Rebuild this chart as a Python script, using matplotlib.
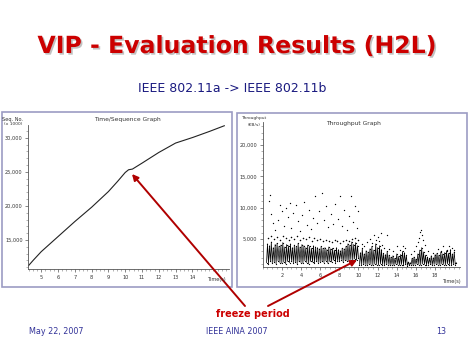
import numpy as np
import matplotlib
matplotlib.use("Agg")
import matplotlib.pyplot as plt
import matplotlib.patheffects as pe
from matplotlib.patches import Rectangle, FancyArrowPatch
from matplotlib.ticker import MultipleLocator, FuncFormatter

W, H = 474, 355

# left graph: time vs sequence number (x 1000)
seq_t = [4.24, 4.54, 5.0, 6.0, 7.0, 8.0, 9.0, 9.54, 10.0, 10.2, 10.43,
         11.0, 12.0, 13.0, 14.03, 15.02, 15.9]
seq_v = [11220, 12060, 13280, 15490, 17700, 19800, 22100, 23575, 24900,
         25300, 25400, 26270, 27840, 29220, 30050, 30930, 31760]

# right graph: throughput samples, dense band before the handoff (0.4 .. 10.0 s)
thr_v1 = [1200, 4200, 1000, 3900, 1400, 4500, 1100, 3600, 1300, 4100,
          1000, 4300, 1500, 3800, 1200, 4000, 1100, 4400, 1300, 3700,
          1000, 4100, 1400, 3900, 1200, 4200, 1500, 3600, 1100, 4000,
          1300, 3800, 1000, 4300, 1400, 3700, 1200, 4100, 1100, 3900,
          1500, 3600, 1200, 4000, 1000, 3800, 1400, 3500, 1300, 3900,
          1100, 3700, 1500, 3600, 1200, 3400, 1300, 3800, 1400, 3500,
          1200, 3600, 1500, 3300, 1100, 3700, 1400, 3400, 1300, 3500,
          1600, 3200, 1200, 3600, 1500, 3300, 1400, 3100, 1700, 3500,
          1300, 3400, 1600, 3800, 1500, 4200, 1400, 4000, 1700, 4500,
          1500, 4100, 1800, 4400, 1600, 3900, 2000]
# after the handoff (10.1 .. 20.2 s)
thr_v2 = [900, 2800, 800, 3500, 1000, 2600, 900, 3100, 800, 2900,
          1000, 3400, 900, 3800, 800, 3200, 1000, 4200, 900, 3600,
          800, 3900, 1000, 3300, 900, 2700, 800, 2500, 1000, 3000,
          900, 2400, 800, 2100, 900, 2300, 800, 1900, 1000, 2600,
          900, 2200, 800, 2500, 900, 3000, 800, 2800, 1000, 2400,
          700, 1300, 800, 1200, 900, 1900, 800, 2100, 900, 1800,
          1000, 2600, 900, 3200, 800, 3600, 1000, 2900, 900, 2400,
          800, 2100, 900, 1900, 1000, 2300, 800, 2000, 900, 2500,
          1000, 2700, 900, 2400, 800, 2900, 1000, 2600, 900, 2800,
          800, 3100, 1000, 2700, 900, 3300, 800, 2600, 1000, 2900,
          900, 1200]
# sample times: one sample every 0.1 s
thr_t1 = np.round(np.arange(len(thr_v1)) * 0.1 + 0.4, 1)
thr_t2 = np.round(np.arange(len(thr_v2)) * 0.1 + 10.1, 1)

# loose row of points around 5000 KB/s
row_t = [0.6, 0.9, 1.2, 1.5, 1.8, 2.1, 2.4, 2.7, 3.0, 3.3, 3.6, 3.9, 4.2, 4.5,
         4.8, 5.1, 5.4, 5.7, 6.0, 6.3, 6.6, 6.9, 7.2, 7.5, 7.8, 8.1, 8.4, 8.7,
         9.0, 9.3, 9.6, 9.9]
row_v = [5200, 5400, 5000, 5300, 4900, 5500, 5100, 4800, 5300, 5000, 5400,
         4900, 5200, 5000, 5300, 4700, 5100, 4800, 5000, 4600, 4900, 4700,
         4500, 4800, 4600, 4400, 4700, 4900, 4600, 5000, 5200, 4800]

# sparse high points
out_t = [0.8, 0.7, 0.9, 1.1, 1.3, 1.6, 1.8, 2.0, 2.2, 2.4, 2.6, 2.8, 3.0, 3.2,
         3.5, 3.7, 3.9, 4.1, 4.3, 4.6, 4.8, 5.0, 5.2, 5.5, 5.7, 5.9, 6.2, 6.4,
         6.6, 6.8, 7.1, 7.3, 7.6, 7.9, 8.1, 8.3, 8.5, 8.8, 9.0, 9.2, 9.4, 9.6,
         9.8, 9.9,
         10.4, 10.6, 10.9, 11.2, 11.4, 11.6, 11.8, 12.0, 12.1, 12.3, 12.5, 12.7,
         13.0, 13.2, 13.6, 14.0, 14.3, 14.7, 14.9, 15.5, 15.8, 16.0, 16.2, 16.3,
         16.4, 16.5, 16.6, 16.7, 16.9, 17.3, 17.8, 18.3, 18.6, 18.8, 19.2, 19.5,
         19.8, 20.0]
out_v = [12000, 11000, 9000, 7500, 6500, 8000, 10500, 9500, 7000, 10000,
         8500, 10800, 6800, 9200, 10400, 7800, 6200, 8800, 10900, 7300, 9700,
         6600, 8300, 11800, 7600, 9400, 12300, 8000, 10200, 6900, 9000, 7400,
         10600, 8200, 11900, 7100, 9600, 6400, 8700, 11800, 7700, 10300, 6800,
         9500,
         4200, 3800, 4500, 5000, 4300, 5600, 4800, 5300, 4600, 5900, 4000, 3600,
         5600, 3400, 3000, 3800, 3200, 3900, 3500, 2600, 3000, 3800, 4500, 5200,
         6100, 6400, 5600, 4800, 4100, 3000, 2800, 3400, 3100, 3800, 3300, 3900,
         3600, 3200]


def box(x0, y0, x1, y1):
    # pixel box (top-left origin) -> figure fraction rect
    return [x0 / W, 1 - y1 / H, (x1 - x0) / W, (y1 - y0) / H]


def fx(x, y):
    return (x / W, 1 - y / H)


fig = plt.figure(figsize=(W / 100, H / 100), dpi=100)
fig.patch.set_facecolor("white")

# panel frames
for x0, y0, x1, y1 in [(2, 112, 232, 287), (237, 113, 467, 287)]:
    fig.add_artist(Rectangle(fx(x0, y1), (x1 - x0) / W, (y1 - y0) / H,
                             transform=fig.transFigure, fill=False,
                             edgecolor="#9c9cc4", lw=1.2))

comma = FuncFormatter(lambda v, p: f"{int(v):,}")


def style(ax):
    for s in ["top", "right"]:
        ax.spines[s].set_visible(False)
    for s in ["left", "bottom"]:
        ax.spines[s].set_color("#555555")
        ax.spines[s].set_linewidth(0.6)
    ax.tick_params(which="major", length=2.5, width=0.5, colors="#555555",
                   labelsize=3.6, labelcolor="#333333", pad=1.5)
    ax.tick_params(which="minor", length=1.3, width=0.4, colors="#777777")
    ax.yaxis.set_major_formatter(comma)
    ax.set_facecolor("white")


ax1 = fig.add_axes(box(28.3, 125, 229, 269))
ax1.plot(seq_t, seq_v, color="#222222", lw=0.8)
ax1.set_xlim(4.23, 16.18)
ax1.set_ylim(10735, 31870)
ax1.set_xticks(range(5, 15))
ax1.xaxis.set_minor_locator(MultipleLocator(0.25))
ax1.set_yticks([15000, 20000, 25000, 30000])
ax1.yaxis.set_minor_locator(MultipleLocator(1000))
style(ax1)

ax2 = fig.add_axes(box(262.7, 122, 460, 267))
ax2.plot(thr_t1, thr_v1, color="black", lw=0.5)
ax2.plot(thr_t2, thr_v2, color="black", lw=0.5)
ax2.scatter(thr_t1, thr_v1, s=0.8, color="black", lw=0)
ax2.scatter(thr_t2, thr_v2, s=0.8, color="black", lw=0)
ax2.scatter(row_t, row_v, s=1.2, color="black", lw=0)
ax2.scatter(out_t, out_v, s=0.9, color="black", lw=0)
ax2.set_xlim(0, 20.6)
ax2.set_ylim(500, 23700)
ax2.set_xticks(range(2, 20, 2))
ax2.xaxis.set_minor_locator(MultipleLocator(0.5))
ax2.set_yticks([5000, 10000, 15000, 20000])
ax2.yaxis.set_minor_locator(MultipleLocator(1000))
style(ax2)

small = dict(fontsize=3.6, color="#333333")
fig.text(*fx(127, 120), "Time/Sequence Graph", ha="center", va="center",
         fontsize=4.3, color="#333333")
fig.text(*fx(13, 119), "Seq. No.", ha="center", va="center", **small)
fig.text(*fx(13, 124), "(x 1000)", ha="center", va="center", fontsize=3.2,
         color="#333333")
fig.text(*fx(216, 280), "Time(s)", ha="center", va="center", **small)

fig.text(*fx(353, 123), "Throughput Graph", ha="center", va="center",
         fontsize=4.3, color="#333333")
fig.text(*fx(254, 118.5), "Throughput", ha="center", va="center", fontsize=3.2,
         color="#333333")
fig.text(*fx(254, 124.5), "(KB/s)", ha="center", va="center", fontsize=3.2,
         color="#333333")
fig.text(*fx(451, 282), "Time(s)", ha="center", va="center", **small)

# slide title and subtitle
fig.text(*fx(237, 46), "VIP - Evaluation Results (H2L)", ha="center",
         va="center", fontsize=17, fontweight="bold", color="#cc0000",
         path_effects=[pe.withSimplePatchShadow(offset=(1.2, -1.2),
                                                shadow_rgbFace="#999999",
                                                alpha=0.6)])
fig.text(*fx(232, 88), "IEEE 802.11a -> IEEE 802.11b", ha="center",
         va="center", fontsize=9, color="#1a1a80")

# freeze period arrows
red = "#b00000"
for start, end in [((245, 306), (132, 174)), ((268, 306), (357, 260))]:
    fig.add_artist(FancyArrowPatch(fx(*start), fx(*end),
                                   transform=fig.transFigure,
                                   arrowstyle="-|>", mutation_scale=9,
                                   color=red, lw=1.4, shrinkA=0, shrinkB=0))
fig.text(*fx(253, 314), "freeze period", ha="center", va="center",
         fontsize=7, fontweight="bold", color="#cc0000")

# footer
foot = dict(ha="center", va="center", fontsize=5.8, color="#333399")
fig.text(*fx(56, 332), "May 22, 2007", **foot)
fig.text(*fx(237, 332), "IEEE AINA 2007", **foot)
fig.text(*fx(441, 332), "13", **foot)

fig.savefig("out.png", dpi=100)
